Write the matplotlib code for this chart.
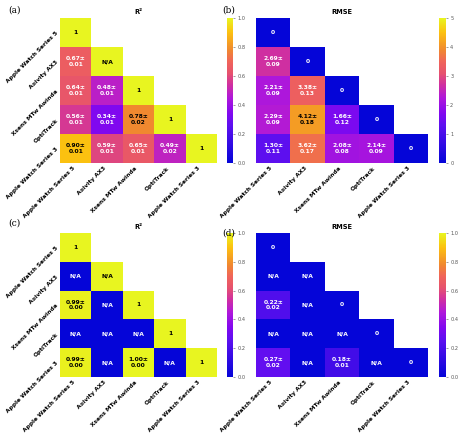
import numpy as np
import matplotlib
matplotlib.use("Agg")
import matplotlib.pyplot as plt
from matplotlib.colors import LinearSegmentedColormap

devices = ["Apple Watch Series 5", "Axivity AX3", "Xsens MTw Awinda", "OptiTrack", "Apple Watch Series 3"]

# lower-triangle values (None = N/A)
r2_a_mean = [[None], [0.67, None], [0.64, 0.48, None], [0.56, 0.34, 0.78, None], [0.90, 0.59, 0.65, 0.49, None]]
r2_a_std = [[None], [0.01, None], [0.01, 0.01, None], [0.01, 0.01, 0.02, None], [0.01, 0.01, 0.01, 0.02, None]]
r2_a_diag = ["1", "N/A", "1", "1", "1"]

rmse_b_mean = [[None], [2.69, None], [2.21, 3.38, None], [2.29, 4.12, 1.66, None], [1.30, 3.62, 2.08, 2.14, None]]
rmse_b_std = [[None], [0.09, None], [0.09, 0.13, None], [0.09, 0.18, 0.12, None], [0.11, 0.17, 0.08, 0.09, None]]
rmse_b_diag = ["0", "0", "0", "0", "0"]

r2_c_mean = [[None], [None, None], [0.99, None, None], [None, None, None, None], [0.99, None, 1.00, None, None]]
r2_c_std = [[None], [None, None], [0.00, None, None], [None, None, None, None], [0.00, None, 0.00, None, None]]
r2_c_diag = ["1", "N/A", "1", "1", "1"]

rmse_d_mean = [[None], [None, None], [0.22, None, None], [None, None, None, None], [0.27, None, 0.18, None, None]]
rmse_d_std = [[None], [None, None], [0.02, None, None], [None, None, None, None], [0.02, None, 0.01, None, None]]
rmse_d_diag = ["0", "N/A", "0", "0", "0"]

cmap = LinearSegmentedColormap.from_list("custom", [
    (0.0, "#0505d8"), (0.26, "#5e10f0"), (0.34, "#8008f0"), (0.45, "#b018da"),
    (0.54, "#d030a0"), (0.62, "#e6526e"), (0.70, "#f0645a"), (0.78, "#f08830"),
    (0.90, "#fcc010"), (1.0, "#e8f520")])

W, H = 474, 438
fig = plt.figure(figsize=(W / 100, H / 100), dpi=100)


def fr(x0, y0, x1, y1):
    return [x0 / W, 1 - y1 / H, (x1 - x0) / W, (y1 - y0) / H]


def panel(rect, cbrect, means, stds, diag, diag_fill, vmax, title, ylabels, cbticks, cbfmt):
    ax = fig.add_axes(fr(*rect))
    n = len(devices)
    M = np.full((n, n), np.nan)
    for i in range(n):
        for j in range(i + 1):
            if i == j:
                M[i, j] = diag_fill[i]
            else:
                v = means[i][j]
                M[i, j] = 0.0 if v is None else v
    Mm = np.ma.masked_invalid(M)
    im = ax.imshow(Mm, cmap=cmap, vmin=0, vmax=vmax, aspect="auto",
                   interpolation="nearest", extent=(-0.5, n - 0.5, n - 0.5, -0.5))
    for i in range(n):
        for j in range(i + 1):
            if i == j:
                txt = diag[i]
            else:
                v = means[i][j]
                txt = "N/A" if v is None else f"{v:.2f}±\n{stds[i][j]:.2f}"
            c = "black" if M[i, j] / vmax > 0.75 else "white"
            ax.text(j, i, txt, ha="center", va="center", fontsize=4.3,
                    fontweight="bold", color=c, linespacing=1.1)
    ax.set_xlim(-0.5, n - 0.5)
    ax.set_ylim(n - 0.5, -0.5)
    for s in ax.spines.values():
        s.set_visible(False)
    ax.set_xticks(range(n))
    ax.set_xticklabels(devices, rotation=45, ha="right", fontsize=4.2, fontweight="bold")
    ax.set_yticks(range(n))
    if ylabels:
        ax.set_yticklabels(devices, rotation=45, ha="right", va="center",
                           rotation_mode="anchor", fontsize=4.2, fontweight="bold")
    else:
        ax.set_yticklabels([])
    ax.tick_params(length=0, pad=2)
    ax.set_title(title, fontsize=4.8, fontweight="bold", pad=3)
    cax = fig.add_axes(fr(*cbrect))
    cb = fig.colorbar(im, cax=cax)
    cb.outline.set_visible(False)
    cb.set_ticks(cbticks)
    cb.set_ticklabels([cbfmt.format(t) for t in cbticks])
    cax.tick_params(labelsize=3.6, length=1.5, width=0.4, colors="#555555", pad=1.5)
    return ax


r2ticks = [0, 0.2, 0.4, 0.6, 0.8, 1.0]
panel((60, 18, 217, 163), (227, 18, 233, 163), r2_a_mean, r2_a_std, r2_a_diag,
      [1, 1, 1, 1, 1], 1.0, "R²", True, r2ticks, "{:.1f}")
panel((256, 18, 428, 163), (439, 18, 446, 163), rmse_b_mean, rmse_b_std, rmse_b_diag,
      [0, 0, 0, 0, 0], 5.0, "RMSE", False, [0, 1, 2, 3, 4, 5], "{:.0f}")
panel((60, 233, 217, 377), (227, 233, 233, 377), r2_c_mean, r2_c_std, r2_c_diag,
      [1, 1, 1, 1, 1], 1.0, "R²", True, r2ticks, "{:.1f}")
panel((256, 233, 428, 377), (439, 233, 446, 377), rmse_d_mean, rmse_d_std, rmse_d_diag,
      [0, 0, 0, 0, 0], 1.0, "RMSE", False, r2ticks, "{:.1f}")

for lab, x, y in [("(a)", 8, 10), ("(b)", 222, 10), ("(c)", 8, 223), ("(d)", 222, 233)]:
    fig.text(x / W, 1 - y / H, lab, fontsize=6.5, family="DejaVu Serif",
             ha="left", va="center")

fig.savefig("out.png", dpi=100)
